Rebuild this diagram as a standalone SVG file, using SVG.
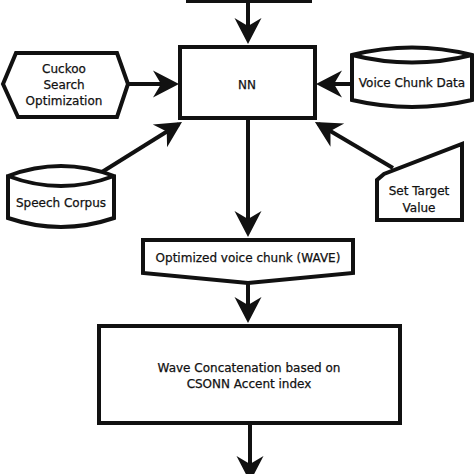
<svg xmlns="http://www.w3.org/2000/svg" width="474" height="474" viewBox="0 0 474 474">
<style>
.shape{fill:#fff;stroke:#111;stroke-width:4;stroke-linejoin:miter}
.lbl{font-family:"DejaVu Sans","Verdana",sans-serif;font-size:12px;fill:#111;stroke:#111;stroke-width:0.25;text-anchor:middle}
.conn{stroke:#111;stroke-width:4;fill:none;marker-end:url(#ah)}
</style>
<defs>
<marker id="ah" markerUnits="userSpaceOnUse" markerWidth="40" markerHeight="40" refX="0" refY="0" orient="auto" overflow="visible">
<path d="M4,0 L-22,-13.5 L-14,0 L-22,13.5 Z" fill="#111"/>
</marker>
</defs>
<rect width="474" height="474" fill="#fff"/>
<g id="top-box">
<rect class="shape" x="188" y="-30" width="122" height="31" style="fill:#555"/>
</g>
<g id="nn">
<rect class="shape" x="180" y="47" width="135" height="71"/>
<text class="lbl" x="247" y="89">NN</text>
</g>
<g id="cuckoo">
<path class="shape" d="M3,84 L16,53 L117,53 L128,84 L117,117 L18,117 Z"/>
<text class="lbl" x="64" y="73">Cuckoo</text>
<text class="lbl" x="64" y="89">Search</text>
<text class="lbl" x="64" y="105">Optimization</text>
</g>
<g id="voice-chunk-data">
<path class="shape" d="M352,55 Q412,40 472,55 L472,100 Q412,114 352,100 Z"/>
<path class="shape" d="M352,55 Q412,70 472,55" style="fill:none"/>
<text class="lbl" x="412" y="87">Voice Chunk Data</text>
</g>
<g id="speech-corpus">
<path class="shape" d="M8,176 Q61,156 114,176 L114,218 Q61,236 8,218 Z"/>
<path class="shape" d="M8,176 Q61,196 114,176" style="fill:none"/>
<text class="lbl" x="61" y="207">Speech Corpus</text>
</g>
<g id="set-target-value">
<path class="shape" d="M377,220 L377,180 L384,174 L462,144 L462,220 Z"/>
<text class="lbl" x="419" y="195">Set Target</text>
<text class="lbl" x="419" y="212">Value</text>
</g>
<g id="optimized-voice-chunk">
<path class="shape" d="M143,240 L353,240 L353,273 L248,283 L143,273 Z"/>
<text class="lbl" x="248" y="262">Optimized voice chunk (WAVE)</text>
</g>
<g id="wave-concatenation">
<rect class="shape" x="99" y="326" width="301" height="97"/>
<text class="lbl" x="249" y="372">Wave Concatenation based on</text>
<text class="lbl" x="249" y="388">CSONN Accent index</text>
</g>
<g id="connectors">
<line class="conn" x1="248" y1="2" x2="248" y2="40"/>
<line class="conn" x1="128" y1="84" x2="175" y2="84"/>
<line class="conn" x1="352" y1="84" x2="320" y2="84"/>
<line class="conn" x1="102" y1="172" x2="178.6" y2="124.2"/>
<line class="conn" x1="393" y1="168" x2="318.4" y2="124"/>
<line class="conn" x1="248" y1="118" x2="248" y2="233"/>
<line class="conn" x1="248" y1="283" x2="248" y2="319"/>
<line class="conn" x1="250" y1="423" x2="250" y2="478"/>
</g>
</svg>
